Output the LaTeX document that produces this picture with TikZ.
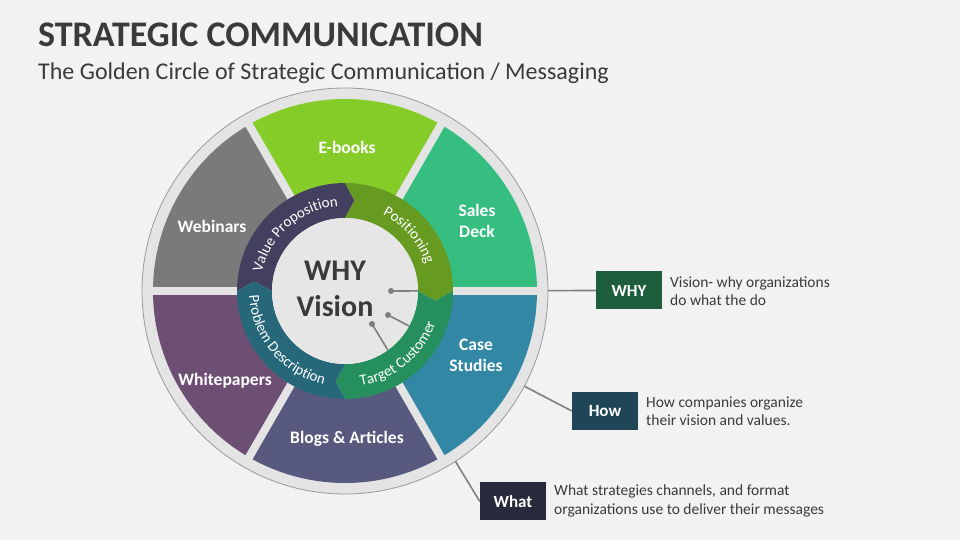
\documentclass[tikz,border=0pt]{standalone}
\usepackage{fontspec}
\setmainfont{Carlito}
\usetikzlibrary{decorations.text}
\definecolor{bg}{HTML}{F2F2F2}
\definecolor{disc}{HTML}{E4E4E4}
\definecolor{discline}{HTML}{9A9A9A}
\definecolor{cweb}{HTML}{7A7A7A}
\definecolor{cebook}{HTML}{86CC28}
\definecolor{csales}{HTML}{35BE80}
\definecolor{ccase}{HTML}{3287A5}
\definecolor{cblog}{HTML}{575A7E}
\definecolor{cwhite}{HTML}{6D4F74}
\definecolor{rvp}{HTML}{433F5E}
\definecolor{rpos}{HTML}{679A20}
\definecolor{rtc}{HTML}{25905E}
\definecolor{rpd}{HTML}{26687A}
\definecolor{inner}{HTML}{E6E6E6}
\definecolor{txt}{HTML}{3A3A3A}
\definecolor{bwhy}{HTML}{1D5E3C}
\definecolor{bhow}{HTML}{1E4656}
\definecolor{bwhat}{HTML}{282A3C}
\definecolor{conn}{HTML}{7F7F7F}
\tikzset{
  seglabel/.style={text=white,font=\bfseries\fontsize{17.5}{21}\selectfont,align=center},
  tagbox/.style={text=white,font=\bfseries\fontsize{17}{19}\selectfont,minimum width=66pt,minimum height=38pt,inner sep=0pt},
  desc/.style={text=txt,font=\fontsize{15.5}{18.5}\selectfont,align=left,anchor=west,inner sep=0pt},
  connector/.style={draw=conn,line width=1.6pt},
  dotc/.style={circle,fill=conn,inner sep=0pt,minimum size=6pt},
}
\begin{document}
\begin{tikzpicture}[x=1pt,y=1pt]
\fill[bg] (0,0) rectangle (960,540);
\useasboundingbox (0,0) rectangle (960,540);
\node[anchor=base west,inner sep=0pt,text=txt,font=\bfseries\fontsize{36}{40}\selectfont] (title) at (38,493) {STRATEGIC COMMUNICATION};
\node[anchor=base west,inner sep=0pt,text=txt,font=\fontsize{24}{28}\selectfont] (sub) at (38,460) {The Golden Circle of Strategic Communication / Messaging};
% callout coordinates
\coordinate (dwhy) at (391,249);
\coordinate (dhow) at (388,225);
\coordinate (dwhat) at (372,216);
\node[tagbox,fill=bwhy] (bwhy) at (629,249.5) {WHY};
\node[tagbox,fill=bhow] (bhow) at (605,129) {How};
\node[tagbox,fill=bwhat] (bwhat) at (513,38.5) {What};
\draw[connector] (dwhy) -- (bwhy.west);
\draw[connector] (dhow) -- (bhow.west);
\draw[connector] (dwhat) -- (bwhat.west);
\node[desc] (twhy) at (670,249) {Vision- why organizations\\do what the do};
\node[desc] (thow) at (646,129) {How companies organize\\their vision and values.};
\node[desc] (twhat) at (554,39) {What strategies channels, and format\\organizations use to deliver their messages};
\begin{scope}[shift={(345,249)}]
\fill[disc,draw=discline,line width=0.8pt] (0,0) circle (203);
% segments
\foreach \a/\c in {0/csales,60/cebook,120/cweb,180/cwhite,240/cblog,300/ccase}{
  \fill[\c] (\a:104) arc[start angle=\a,end angle=\a+60,radius=104] -- (\a+60:192) arc[start angle=\a+60,end angle=\a,radius=192] -- cycle;
}
\foreach \a in {0,60,...,300}{
  \draw[disc,line width=8pt] (\a:100) -- (\a:196);
}
% ring pieces
\foreach \a/\b/\c in {180/90/rvp,90/0/rpos,0/-90/rtc,-90/-180/rpd}{
  \fill[\c] (\a:108) arc[start angle=\a,end angle=\b,radius=108] -- (\b-6:91) -- (\b:73) arc[start angle=\b,end angle=\a,radius=73] -- (\a-6:91) -- cycle;
}
\fill[inner] (0,0) circle (73);
\begin{scope}
\clip (0,0) circle (73);
\draw[connector] (dwhy) -- (bwhy.west);
\draw[connector] (dhow) -- (bhow.west);
\draw[connector] (dwhat) -- (bwhat.west);
\end{scope}
\path[decorate,decoration={text along path,text align=center,text color=white,text={|\fontsize{15}{17}\selectfont|Value Proposition}}] (174:85) arc[start angle=174,end angle=88,radius=85];
\path[decorate,decoration={text along path,text align=center,text color=white,text={|\fontsize{15}{17}\selectfont|Positioning}}] (84:85) arc[start angle=84,end angle=-2,radius=85];
\path[decorate,decoration={text along path,text align=center,text color=white,text={|\fontsize{15}{17}\selectfont|Target Customer}}] (-94:96) arc[start angle=-94,end angle=-6,radius=96];
\path[decorate,decoration={text along path,text align=center,text color=white,text={|\fontsize{15}{17}\selectfont|Problem Description}}] (176:96) arc[start angle=176,end angle=264,radius=96];
\end{scope}
\node[dotc] (pwhy) at (dwhy) {};
\node[dotc] (phow) at (dhow) {};
\node[dotc] (pwhat) at (dwhat) {};
\node[text=txt,font=\bfseries\fontsize{30}{36}\selectfont,align=center] (core) at (335,251) {WHY\\Vision};
\node[seglabel] (ebook) at (347,393) {E-books};
\node[seglabel] (sales) at (477,319) {Sales\\Deck};
\node[seglabel] (case) at (476,185) {Case\\Studies};
\node[seglabel] (blog) at (347,101) {Blogs \& Articles};
\node[seglabel] (whitep) at (225,159) {Whitepapers};
\node[seglabel] (web) at (212,314) {Webinars};
\end{tikzpicture}
\end{document}
